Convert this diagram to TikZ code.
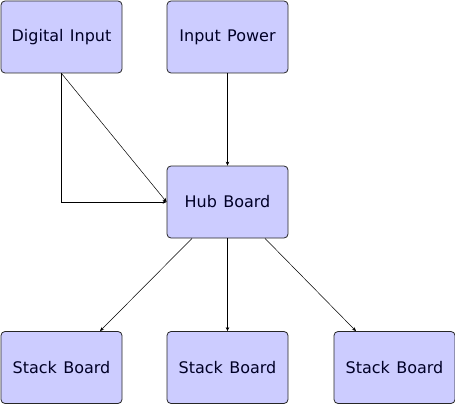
\documentclass[tikz,border=0pt]{standalone}
\usepackage{fontspec}
\setmainfont[WordSpace={1.25}]{DejaVu Sans}
\usetikzlibrary{arrows.meta}
\begin{document}
\begin{tikzpicture}[x=1pt,y=1pt,
  box/.style={draw=black!85, fill={rgb,255:red,204;green,204;blue,255}, rounded corners=4pt,
    minimum width=121pt, minimum height=72pt, inner sep=0pt, line width=0.8pt,
    font=\fontsize{16}{19}\selectfont, text=black!85!blue},
  conn/.style={draw=black, line width=0.5pt, -{Stealth[length=4pt,width=3.5pt]}}]
\useasboundingbox (0,0) rectangle (455,405);
\node[box] (di) at (61.5,368) {Digital Input};
\node[box] (ip) at (227.5,368) {Input Power};
\node[box] (hub) at (227.5,203) {Hub Board};
\node[box] (s1) at (61.5,37.5) {Stack Board};
\node[box] (s2) at (227.5,37.5) {Stack Board};
\node[box] (s3) at (394.5,37.5) {Stack Board};
\draw[conn] (di.south) -- (61.5,203) -- (hub.west);
\draw[conn] (di.south) -- (hub.west);
\draw[conn] (ip.south) -- (hub.north);
\draw[conn] (hub.south -| 192,0) -- (s1.north -| 100,0);
\draw[conn] (hub.south) -- (s2.north);
\draw[conn] (hub.south -| 265,0) -- (s3.north -| 356,0);
\end{tikzpicture}
\end{document}
